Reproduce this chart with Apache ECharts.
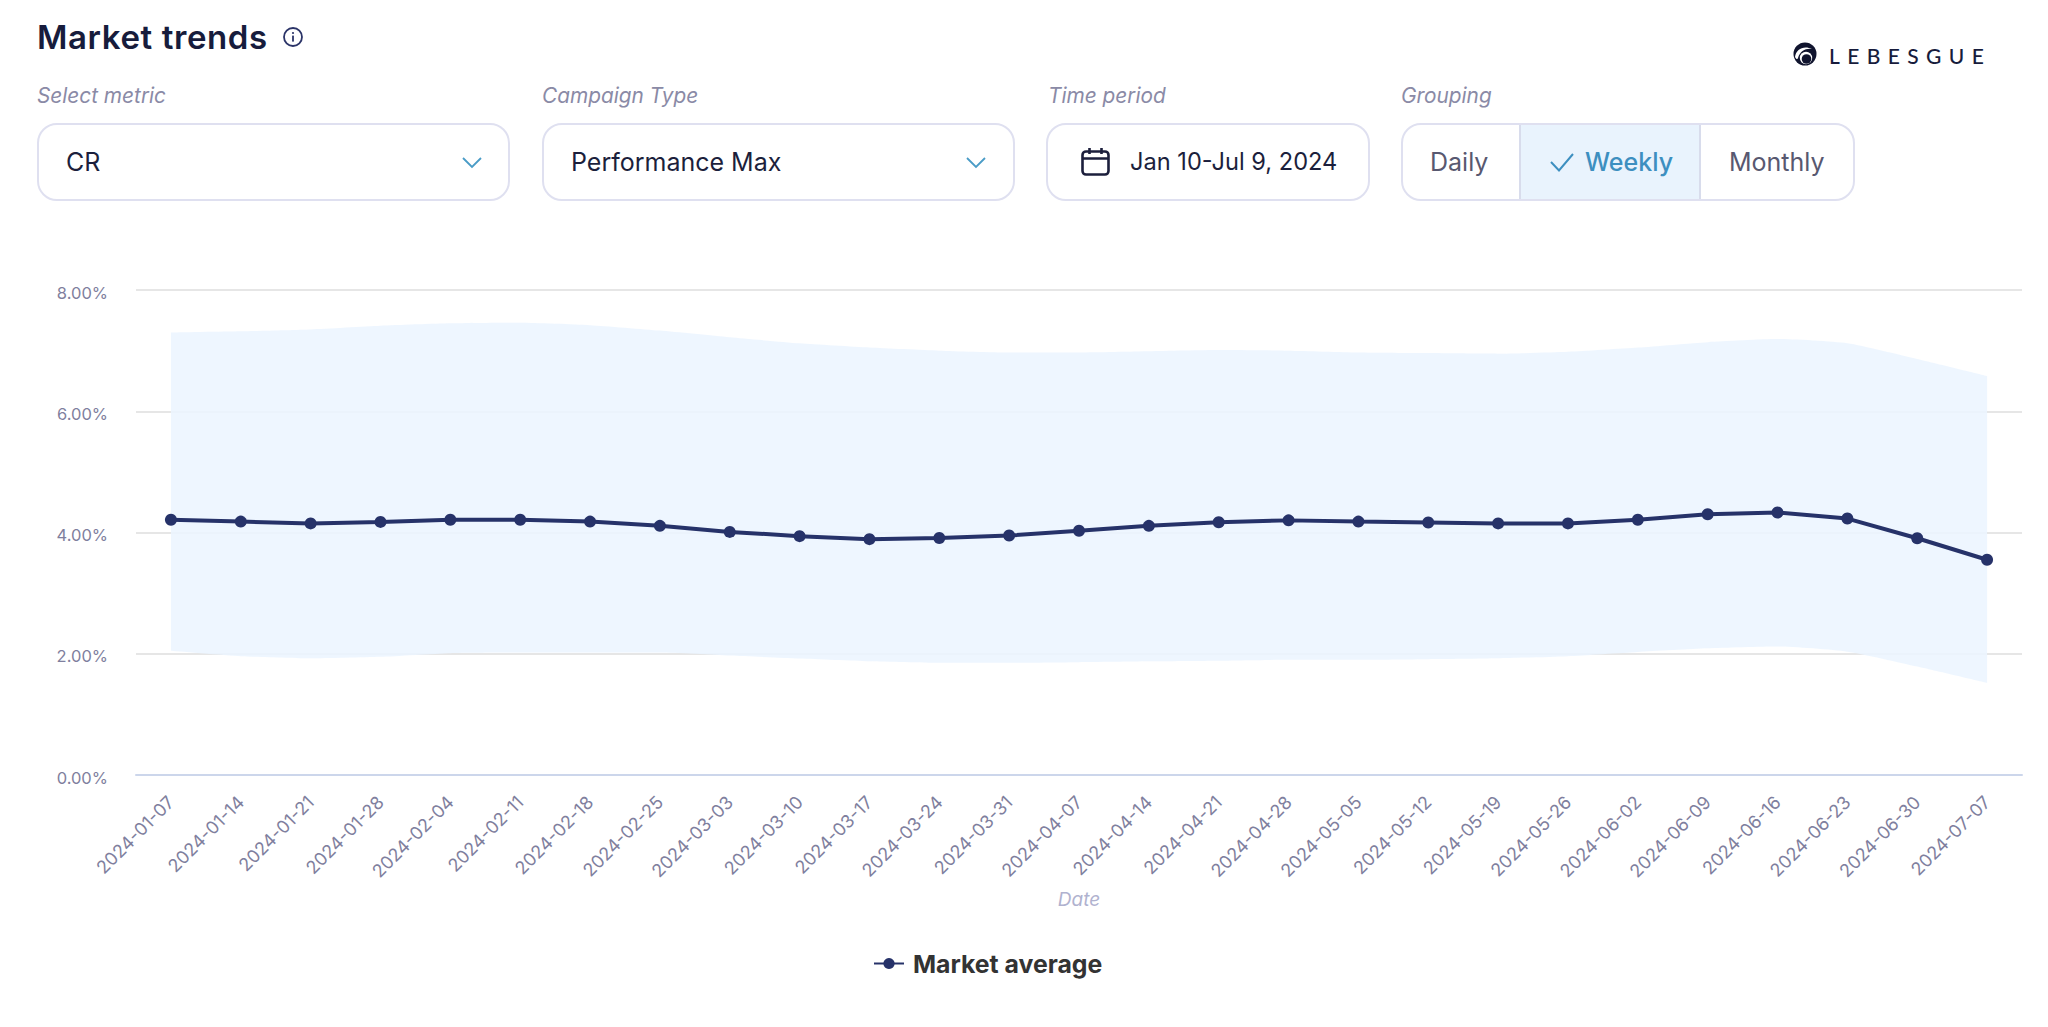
<!DOCTYPE html>
<html lang="en">
<head>
<meta charset="utf-8">
<title>Market trends</title>
<script src="https://cdn.jsdelivr.net/npm/echarts@6/dist/echarts.min.js"></script>
<style>
  html, body { margin: 0; padding: 0; background: #fff; }
  body { width: 2048px; height: 1027px; position: relative; overflow: hidden; font-family: Inter, "Noto Sans", sans-serif; }
  #chart { position: absolute; left: 0; top: 0; width: 2048px; height: 1027px; }
  .t { position: absolute; white-space: nowrap; line-height: 1; transform: translateY(-50%); }
  .title { left: 37px; top: 37px; font-size: 33px; font-weight: 600; color: #171c3c; letter-spacing: 0.6px; }
  .label { top: 96px; font-size: 20.8px; font-style: italic; color: #8a8aa6; }
  .box { position: absolute; top: 123px; height: 78px; box-sizing: border-box; background: #fff; border: 2px solid #dfe0f0; border-radius: 20px; }
  .val { top: 162px; font-size: 25px; color: #1c1f3c; }
  .opt { top: 162px; font-size: 25px; color: #585870; }
  .icon { position: absolute; overflow: visible; }
  .brand { left: 1829px; top: 55px; font-size: 21px; font-weight: 500; color: #171c3c; letter-spacing: 7.4px; font-family: Lato, sans-serif; }
</style>
</head>
<body>
<div id="chart"></div>

<div class="t title">Market trends</div>
<svg class="icon" style="left:283px;top:27px" width="20" height="20" viewBox="0 0 20 20">
  <circle cx="10" cy="10" r="9" fill="none" stroke="#2b3468" stroke-width="1.8"/>
  <rect x="9.1" y="8.6" width="1.8" height="6" fill="#2b3468"/><circle cx="10" cy="6" r="1.1" fill="#2b3468"/>
</svg>

<svg class="icon" style="left:1793px;top:42px" width="24" height="24" viewBox="0 0 24 24">
  <circle cx="12" cy="12" r="11.5" fill="#10142e"/>
  <path d="M2 15 C3 7 11 3 19 7 C13 6 7 9 5 16 C4.5 18 3 17 2 15Z" fill="#fff"/>
  <circle cx="13" cy="16" r="6.2" fill="#fff"/><circle cx="13.5" cy="17" r="4.8" fill="#10142e"/>
</svg>
<div class="t brand">LEBESGUE</div>

<div class="t label" style="left:37px">Select metric</div>
<div class="box" style="left:37px;width:473px"></div>
<div class="t val" style="left:66px">CR</div>
<svg class="icon" style="left:462px;top:157px" width="20" height="11" viewBox="0 0 20 11"><path d="M1 1 L10 10 L19 1" fill="none" stroke="#4a9cc7" stroke-width="1.8"/></svg>

<div class="t label" style="left:542px">Campaign Type</div>
<div class="box" style="left:542px;width:473px"></div>
<div class="t val" style="left:571px">Performance Max</div>
<svg class="icon" style="left:966px;top:157px" width="20" height="11" viewBox="0 0 20 11"><path d="M1 1 L10 10 L19 1" fill="none" stroke="#4a9cc7" stroke-width="1.8"/></svg>

<div class="t label" style="left:1048px">Time period</div>
<div class="box" style="left:1046px;width:324px"></div>
<svg class="icon" style="left:1081px;top:147px" width="29" height="29" viewBox="0 0 29 29">
  <rect x="1.5" y="4.5" width="26" height="23" rx="3.5" fill="none" stroke="#1c1f3c" stroke-width="2.6"/>
  <path d="M1.5 11.5 H27.5 M8.5 1 V7 M20.5 1 V7" fill="none" stroke="#1c1f3c" stroke-width="2.6"/>
</svg>
<div class="t val" style="left:1130px;font-size:23.6px">Jan 10-Jul 9, 2024</div>

<div class="t label" style="left:1401px">Grouping</div>
<div class="box" style="left:1401px;width:454px;overflow:hidden">
  <div style="position:absolute;left:116px;top:0;width:182px;height:74px;box-sizing:border-box;background:#e9f3fd;border-left:2px solid #d8dcec;border-right:2px solid #d8dcec"></div>
</div>
<div class="t opt" style="left:1430px">Daily</div>
<svg class="icon" style="left:1550px;top:153px" width="24" height="19" viewBox="0 0 24 19"><path d="M1 9 L9 17.5 L23 1" fill="none" stroke="#3d8fc0" stroke-width="2"/></svg>
<div class="t opt" style="left:1585px;color:#3d8fc0;font-weight:500">Weekly</div>
<div class="t opt" style="left:1729px">Monthly</div>

<script>
// Weekly conversion rate, in percent
const categories = [
  '2024-01-07','2024-01-14','2024-01-21','2024-01-28','2024-02-04','2024-02-11','2024-02-18',
  '2024-02-25','2024-03-03','2024-03-10','2024-03-17','2024-03-24','2024-03-31','2024-04-07',
  '2024-04-14','2024-04-21','2024-04-28','2024-05-05','2024-05-12','2024-05-19','2024-05-26',
  '2024-06-02','2024-06-09','2024-06-16','2024-06-23','2024-06-30','2024-07-07'
];
const marketAverage = [
  4.21,4.18,4.15,4.175,4.21,4.21,4.18,4.11,4.01,3.94,3.89,3.91,3.95,4.03,
  4.11,4.17,4.20,4.18,4.165,4.15,4.15,4.21,4.30,4.33,4.23,3.905,3.55
];
const upperBand = [
  7.30,7.32,7.35,7.41,7.45,7.46,7.42,7.33,7.22,7.12,7.05,7.00,6.97,6.97,
  6.99,7.01,7.00,6.97,6.96,6.95,6.98,7.05,7.14,7.19,7.12,6.86,6.58
];
const lowerBand = [
  2.05,1.96,1.925,1.95,2.01,2.02,2.02,2.02,1.97,1.92,1.875,1.85,1.85,1.86,
  1.875,1.885,1.90,1.90,1.91,1.925,1.96,2.03,2.09,2.12,2.035,1.79,1.52
];
const bandHeight = upperBand.map((u, i) => u - lowerBand[i]);

const labelFont = 'Inter, "Noto Sans", sans-serif';
const chart = echarts.init(document.getElementById('chart'), null, { renderer: 'svg' });
chart.setOption({
  animation: false,
  grid: { left: 136, right: 26, top: 290, bottom: 252, containLabel: false },
  legend: {
    data: ['Market average'],
    left: 868,
    top: 946,
    itemWidth: 30,
    itemHeight: 14,
    itemGap: 0,
    textStyle: { fontFamily: labelFont, fontSize: 24.8, fontWeight: 700, color: '#333333', padding: [0, 0, 0, 4] }
  },
  xAxis: {
    type: 'category',
    data: categories,
    boundaryGap: true,
    name: 'Date',
    nameLocation: 'middle',
    nameGap: 115,
    nameTextStyle: { fontFamily: labelFont, fontSize: 19, fontStyle: 'italic', color: '#b0b2cf' },
    axisLine: { lineStyle: { color: '#ccd6eb', width: 2 } },
    axisTick: { show: false },
    axisLabel: { rotate: 45, interval: 0, margin: 24, fontFamily: labelFont, fontSize: 18, color: '#7f7f9e' },
    splitLine: { show: false }
  },
  yAxis: {
    type: 'value',
    min: 0,
    max: 8,
    interval: 2,
    axisLine: { show: false },
    axisTick: { show: false },
    axisLabel: {
      margin: 28,
      formatter: v => '{tick|' + v.toFixed(2) + '%}',
      rich: {
        tick: { fontFamily: labelFont, fontSize: 16.5, color: '#7f7f9e', padding: [5, 0, 0, 0] }
      }
    },
    splitLine: { lineStyle: { color: '#e6e6e6', width: 2 } }
  },
  series: [
    {
      name: 'Lower bound',
      type: 'line',
      stack: 'range',
      data: lowerBand,
      symbol: 'none',
      smooth: 0.2,
      lineStyle: { opacity: 0 },
      z: 2
    },
    {
      name: 'Range',
      type: 'line',
      stack: 'range',
      data: bandHeight,
      symbol: 'none',
      smooth: 0.2,
      lineStyle: { opacity: 0 },
      areaStyle: { color: '#ebf5ff', opacity: 0.85 },
      z: 2
    },
    {
      name: 'Market average',
      type: 'line',
      data: marketAverage,
      symbol: 'circle',
      symbolSize: 12,
      showAllSymbol: true,
      lineStyle: { color: '#263269', width: 4 },
      itemStyle: { color: '#263269' },
      z: 5
    }
  ]
});
</script>
</body>
</html>
